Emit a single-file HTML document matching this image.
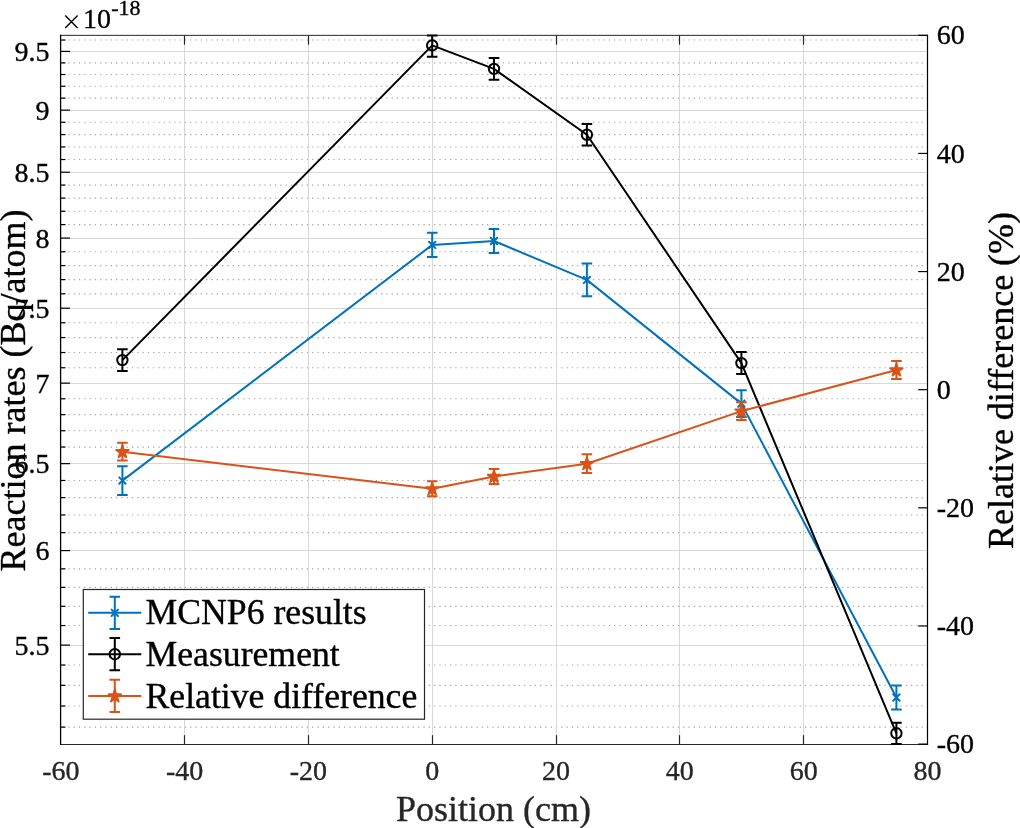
<!DOCTYPE html><html><head><meta charset="utf-8"><style>html,body{margin:0;padding:0;background:#fff;width:1020px;height:828px;overflow:hidden}</style></head><body><svg width="1020" height="828" viewBox="0 0 1020 828" style="position:absolute;left:0;top:0;will-change:transform">
<rect x="0" y="0" width="1020" height="828" fill="#fff"/>
<g stroke="#a6a6a6" stroke-width="1.15" stroke-dasharray="1.3 4.0" fill="none"><line x1="63.00" y1="727.13" x2="927.5" y2="727.13"/><line x1="63.00" y1="706.04" x2="927.5" y2="706.04"/><line x1="63.00" y1="685.35" x2="927.5" y2="685.35"/><line x1="63.00" y1="665.04" x2="927.5" y2="665.04"/><line x1="63.00" y1="625.54" x2="927.5" y2="625.54"/><line x1="63.00" y1="606.31" x2="927.5" y2="606.31"/><line x1="63.00" y1="587.42" x2="927.5" y2="587.42"/><line x1="63.00" y1="568.85" x2="927.5" y2="568.85"/><line x1="63.00" y1="532.63" x2="927.5" y2="532.63"/><line x1="63.00" y1="514.97" x2="927.5" y2="514.97"/><line x1="63.00" y1="497.59" x2="927.5" y2="497.59"/><line x1="63.00" y1="480.48" x2="927.5" y2="480.48"/><line x1="63.00" y1="447.05" x2="927.5" y2="447.05"/><line x1="63.00" y1="430.72" x2="927.5" y2="430.72"/><line x1="63.00" y1="414.63" x2="927.5" y2="414.63"/><line x1="63.00" y1="398.77" x2="927.5" y2="398.77"/><line x1="63.00" y1="367.73" x2="927.5" y2="367.73"/><line x1="63.00" y1="352.53" x2="927.5" y2="352.53"/><line x1="63.00" y1="337.55" x2="927.5" y2="337.55"/><line x1="63.00" y1="322.77" x2="927.5" y2="322.77"/><line x1="63.00" y1="293.80" x2="927.5" y2="293.80"/><line x1="63.00" y1="279.60" x2="927.5" y2="279.60"/><line x1="63.00" y1="265.58" x2="927.5" y2="265.58"/><line x1="63.00" y1="251.75" x2="927.5" y2="251.75"/><line x1="63.00" y1="224.59" x2="927.5" y2="224.59"/><line x1="63.00" y1="211.26" x2="927.5" y2="211.26"/><line x1="63.00" y1="198.09" x2="927.5" y2="198.09"/><line x1="63.00" y1="185.08" x2="927.5" y2="185.08"/><line x1="63.00" y1="159.52" x2="927.5" y2="159.52"/><line x1="63.00" y1="146.96" x2="927.5" y2="146.96"/><line x1="63.00" y1="134.55" x2="927.5" y2="134.55"/><line x1="63.00" y1="122.27" x2="927.5" y2="122.27"/><line x1="63.00" y1="98.13" x2="927.5" y2="98.13"/><line x1="63.00" y1="86.26" x2="927.5" y2="86.26"/><line x1="63.00" y1="74.51" x2="927.5" y2="74.51"/><line x1="63.00" y1="62.90" x2="927.5" y2="62.90"/><line x1="63.00" y1="40.03" x2="927.5" y2="40.03"/></g>
<g stroke="#d7d7d7" stroke-width="1" fill="none"><line x1="60.8" y1="645.50" x2="927.5" y2="645.50"/><line x1="60.8" y1="550.50" x2="927.5" y2="550.50"/><line x1="60.8" y1="463.50" x2="927.5" y2="463.50"/><line x1="60.8" y1="383.50" x2="927.5" y2="383.50"/><line x1="60.8" y1="308.50" x2="927.5" y2="308.50"/><line x1="60.8" y1="238.50" x2="927.5" y2="238.50"/><line x1="60.8" y1="172.50" x2="927.5" y2="172.50"/><line x1="60.8" y1="110.50" x2="927.5" y2="110.50"/><line x1="60.8" y1="51.50" x2="927.5" y2="51.50"/><line x1="184.50" y1="35.3" x2="184.50" y2="744.1"/><line x1="308.50" y1="35.3" x2="308.50" y2="744.1"/><line x1="432.50" y1="35.3" x2="432.50" y2="744.1"/><line x1="556.50" y1="35.3" x2="556.50" y2="744.1"/><line x1="679.50" y1="35.3" x2="679.50" y2="744.1"/><line x1="803.50" y1="35.3" x2="803.50" y2="744.1"/></g>
<g fill="none" stroke-linecap="butt"><line x1="60.0" y1="35.35" x2="928.1" y2="35.35" stroke="#262626" stroke-width="1"/><line x1="60.0" y1="744.45" x2="928.1" y2="744.45" stroke="#262626" stroke-width="1.1"/><line x1="184.50" y1="744.45" x2="184.50" y2="735.1500000000001" stroke="#262626" stroke-width="1.2"/><line x1="184.50" y1="35.35" x2="184.50" y2="44.650000000000006" stroke="#262626" stroke-width="1.2"/><line x1="308.50" y1="744.45" x2="308.50" y2="735.1500000000001" stroke="#262626" stroke-width="1.2"/><line x1="308.50" y1="35.35" x2="308.50" y2="44.650000000000006" stroke="#262626" stroke-width="1.2"/><line x1="432.50" y1="744.45" x2="432.50" y2="735.1500000000001" stroke="#262626" stroke-width="1.2"/><line x1="432.50" y1="35.35" x2="432.50" y2="44.650000000000006" stroke="#262626" stroke-width="1.2"/><line x1="556.50" y1="744.45" x2="556.50" y2="735.1500000000001" stroke="#262626" stroke-width="1.2"/><line x1="556.50" y1="35.35" x2="556.50" y2="44.650000000000006" stroke="#262626" stroke-width="1.2"/><line x1="679.50" y1="744.45" x2="679.50" y2="735.1500000000001" stroke="#262626" stroke-width="1.2"/><line x1="679.50" y1="35.35" x2="679.50" y2="44.650000000000006" stroke="#262626" stroke-width="1.2"/><line x1="803.50" y1="744.45" x2="803.50" y2="735.1500000000001" stroke="#262626" stroke-width="1.2"/><line x1="803.50" y1="35.35" x2="803.50" y2="44.650000000000006" stroke="#262626" stroke-width="1.2"/><line x1="60.6" y1="34.85" x2="60.6" y2="745.0" stroke="#000" stroke-width="1.3"/><line x1="60.6" y1="727.13" x2="65.5" y2="727.13" stroke="#000" stroke-width="1.2"/><line x1="60.6" y1="706.04" x2="65.5" y2="706.04" stroke="#000" stroke-width="1.2"/><line x1="60.6" y1="685.35" x2="65.5" y2="685.35" stroke="#000" stroke-width="1.2"/><line x1="60.6" y1="665.04" x2="65.5" y2="665.04" stroke="#000" stroke-width="1.2"/><line x1="60.6" y1="645.11" x2="70.0" y2="645.11" stroke="#000" stroke-width="1.2"/><line x1="60.6" y1="625.54" x2="65.5" y2="625.54" stroke="#000" stroke-width="1.2"/><line x1="60.6" y1="606.31" x2="65.5" y2="606.31" stroke="#000" stroke-width="1.2"/><line x1="60.6" y1="587.42" x2="65.5" y2="587.42" stroke="#000" stroke-width="1.2"/><line x1="60.6" y1="568.85" x2="65.5" y2="568.85" stroke="#000" stroke-width="1.2"/><line x1="60.6" y1="550.59" x2="70.0" y2="550.59" stroke="#000" stroke-width="1.2"/><line x1="60.6" y1="532.63" x2="65.5" y2="532.63" stroke="#000" stroke-width="1.2"/><line x1="60.6" y1="514.97" x2="65.5" y2="514.97" stroke="#000" stroke-width="1.2"/><line x1="60.6" y1="497.59" x2="65.5" y2="497.59" stroke="#000" stroke-width="1.2"/><line x1="60.6" y1="480.48" x2="65.5" y2="480.48" stroke="#000" stroke-width="1.2"/><line x1="60.6" y1="463.64" x2="70.0" y2="463.64" stroke="#000" stroke-width="1.2"/><line x1="60.6" y1="447.05" x2="65.5" y2="447.05" stroke="#000" stroke-width="1.2"/><line x1="60.6" y1="430.72" x2="65.5" y2="430.72" stroke="#000" stroke-width="1.2"/><line x1="60.6" y1="414.63" x2="65.5" y2="414.63" stroke="#000" stroke-width="1.2"/><line x1="60.6" y1="398.77" x2="65.5" y2="398.77" stroke="#000" stroke-width="1.2"/><line x1="60.6" y1="383.14" x2="70.0" y2="383.14" stroke="#000" stroke-width="1.2"/><line x1="60.6" y1="367.73" x2="65.5" y2="367.73" stroke="#000" stroke-width="1.2"/><line x1="60.6" y1="352.53" x2="65.5" y2="352.53" stroke="#000" stroke-width="1.2"/><line x1="60.6" y1="337.55" x2="65.5" y2="337.55" stroke="#000" stroke-width="1.2"/><line x1="60.6" y1="322.77" x2="65.5" y2="322.77" stroke="#000" stroke-width="1.2"/><line x1="60.6" y1="308.19" x2="70.0" y2="308.19" stroke="#000" stroke-width="1.2"/><line x1="60.6" y1="293.80" x2="65.5" y2="293.80" stroke="#000" stroke-width="1.2"/><line x1="60.6" y1="279.60" x2="65.5" y2="279.60" stroke="#000" stroke-width="1.2"/><line x1="60.6" y1="265.58" x2="65.5" y2="265.58" stroke="#000" stroke-width="1.2"/><line x1="60.6" y1="251.75" x2="65.5" y2="251.75" stroke="#000" stroke-width="1.2"/><line x1="60.6" y1="238.08" x2="70.0" y2="238.08" stroke="#000" stroke-width="1.2"/><line x1="60.6" y1="224.59" x2="65.5" y2="224.59" stroke="#000" stroke-width="1.2"/><line x1="60.6" y1="211.26" x2="65.5" y2="211.26" stroke="#000" stroke-width="1.2"/><line x1="60.6" y1="198.09" x2="65.5" y2="198.09" stroke="#000" stroke-width="1.2"/><line x1="60.6" y1="185.08" x2="65.5" y2="185.08" stroke="#000" stroke-width="1.2"/><line x1="60.6" y1="172.22" x2="70.0" y2="172.22" stroke="#000" stroke-width="1.2"/><line x1="60.6" y1="159.52" x2="65.5" y2="159.52" stroke="#000" stroke-width="1.2"/><line x1="60.6" y1="146.96" x2="65.5" y2="146.96" stroke="#000" stroke-width="1.2"/><line x1="60.6" y1="134.55" x2="65.5" y2="134.55" stroke="#000" stroke-width="1.2"/><line x1="60.6" y1="122.27" x2="65.5" y2="122.27" stroke="#000" stroke-width="1.2"/><line x1="60.6" y1="110.13" x2="70.0" y2="110.13" stroke="#000" stroke-width="1.2"/><line x1="60.6" y1="98.13" x2="65.5" y2="98.13" stroke="#000" stroke-width="1.2"/><line x1="60.6" y1="86.26" x2="65.5" y2="86.26" stroke="#000" stroke-width="1.2"/><line x1="60.6" y1="74.51" x2="65.5" y2="74.51" stroke="#000" stroke-width="1.2"/><line x1="60.6" y1="62.90" x2="65.5" y2="62.90" stroke="#000" stroke-width="1.2"/><line x1="60.6" y1="51.40" x2="70.0" y2="51.40" stroke="#000" stroke-width="1.2"/><line x1="60.6" y1="40.03" x2="65.5" y2="40.03" stroke="#000" stroke-width="1.2"/><line x1="927.5" y1="34.85" x2="927.5" y2="745.0" stroke="#000" stroke-width="1.2"/><line x1="927.5" y1="744.10" x2="918.2" y2="744.10" stroke="#000" stroke-width="1.2"/><line x1="927.5" y1="625.97" x2="918.2" y2="625.97" stroke="#000" stroke-width="1.2"/><line x1="927.5" y1="507.83" x2="918.2" y2="507.83" stroke="#000" stroke-width="1.2"/><line x1="927.5" y1="389.70" x2="918.2" y2="389.70" stroke="#000" stroke-width="1.2"/><line x1="927.5" y1="271.57" x2="918.2" y2="271.57" stroke="#000" stroke-width="1.2"/><line x1="927.5" y1="153.43" x2="918.2" y2="153.43" stroke="#000" stroke-width="1.2"/><line x1="927.5" y1="35.30" x2="918.2" y2="35.30" stroke="#000" stroke-width="1.2"/></g>
<polyline points="122.40,480.60 432.20,244.90 494.00,241.00 586.90,279.90 741.40,403.60 896.40,697.50" fill="none" stroke="#0072BD" stroke-width="2" stroke-linejoin="round"/><path d="M122.40 466.20V495.00M117.10 466.20H127.70M117.10 495.00H127.70M432.20 232.70V257.10M426.90 232.70H437.50M426.90 257.10H437.50M494.00 229.00V252.90M488.70 229.00H499.30M488.70 252.90H499.30M586.90 263.60V296.20M581.60 263.60H592.20M581.60 296.20H592.20M741.40 390.30V416.90M736.10 390.30H746.70M736.10 416.90H746.70M896.40 685.50V709.60M891.10 685.50H901.70M891.10 709.60H901.70" fill="none" stroke="#0072BD" stroke-width="2"/><path d="M119.20 477.40L125.60 483.80M119.20 483.80L125.60 477.40" stroke="#0072BD" stroke-width="2" stroke-linecap="round" fill="none"/><path d="M429.00 241.70L435.40 248.10M429.00 248.10L435.40 241.70" stroke="#0072BD" stroke-width="2" stroke-linecap="round" fill="none"/><path d="M490.80 237.80L497.20 244.20M490.80 244.20L497.20 237.80" stroke="#0072BD" stroke-width="2" stroke-linecap="round" fill="none"/><path d="M583.70 276.70L590.10 283.10M583.70 283.10L590.10 276.70" stroke="#0072BD" stroke-width="2" stroke-linecap="round" fill="none"/><path d="M738.20 400.40L744.60 406.80M738.20 406.80L744.60 400.40" stroke="#0072BD" stroke-width="2" stroke-linecap="round" fill="none"/><path d="M893.20 694.30L899.60 700.70M893.20 700.70L899.60 694.30" stroke="#0072BD" stroke-width="2" stroke-linecap="round" fill="none"/>
<polyline points="122.40,360.10 432.20,45.40 494.00,68.85 586.90,134.75 741.40,363.10 896.40,733.30" fill="none" stroke="#000" stroke-width="2" stroke-linejoin="round"/><path d="M122.40 349.30V371.00M117.10 349.30H127.70M117.10 371.00H127.70M432.20 35.50V56.80M426.90 35.50H437.50M426.90 56.80H437.50M494.00 57.90V79.80M488.70 57.90H499.30M488.70 79.80H499.30M586.90 123.90V145.60M581.60 123.90H592.20M581.60 145.60H592.20M741.40 352.10V374.10M736.10 352.10H746.70M736.10 374.10H746.70M896.40 722.70V743.90M891.10 722.70H901.70M891.10 743.90H901.70" fill="none" stroke="#000" stroke-width="2"/><circle cx="122.40" cy="360.10" r="5.2" stroke="#000" stroke-width="2" fill="none"/><circle cx="432.20" cy="45.40" r="5.2" stroke="#000" stroke-width="2" fill="none"/><circle cx="494.00" cy="68.85" r="5.2" stroke="#000" stroke-width="2" fill="none"/><circle cx="586.90" cy="134.75" r="5.2" stroke="#000" stroke-width="2" fill="none"/><circle cx="741.40" cy="363.10" r="5.2" stroke="#000" stroke-width="2" fill="none"/><circle cx="896.40" cy="733.30" r="5.2" stroke="#000" stroke-width="2" fill="none"/>
<polyline points="122.40,451.65 432.20,488.80 494.00,476.40 586.90,463.70 741.40,411.10 896.40,370.00" fill="none" stroke="#D95319" stroke-width="2" stroke-linejoin="round"/><path d="M122.40 442.80V460.50M117.10 442.80H127.70M117.10 460.50H127.70M432.20 481.30V496.20M426.90 481.30H437.50M426.90 496.20H437.50M494.00 469.00V483.90M488.70 469.00H499.30M488.70 483.90H499.30M586.90 454.30V473.00M581.60 454.30H592.20M581.60 473.00H592.20M741.40 402.20V420.10M736.10 402.20H746.70M736.10 420.10H746.70M896.40 360.90V379.10M891.10 360.90H901.70M891.10 379.10H901.70" fill="none" stroke="#D95319" stroke-width="2"/><polygon points="122.40,445.35 123.88,449.91 128.68,449.91 124.80,452.73 126.28,457.29 122.40,454.47 118.52,457.29 120.00,452.73 116.12,449.91 120.92,449.91" stroke="#D95319" stroke-width="1.8" stroke-linejoin="round" fill="#D95319"/><polygon points="432.20,482.50 433.68,487.06 438.48,487.06 434.60,489.88 436.08,494.44 432.20,491.62 428.32,494.44 429.80,489.88 425.92,487.06 430.72,487.06" stroke="#D95319" stroke-width="1.8" stroke-linejoin="round" fill="#D95319"/><polygon points="494.00,470.10 495.48,474.66 500.28,474.66 496.40,477.48 497.88,482.04 494.00,479.22 490.12,482.04 491.60,477.48 487.72,474.66 492.52,474.66" stroke="#D95319" stroke-width="1.8" stroke-linejoin="round" fill="#D95319"/><polygon points="586.90,457.40 588.38,461.96 593.18,461.96 589.30,464.78 590.78,469.34 586.90,466.52 583.02,469.34 584.50,464.78 580.62,461.96 585.42,461.96" stroke="#D95319" stroke-width="1.8" stroke-linejoin="round" fill="#D95319"/><polygon points="741.40,404.80 742.88,409.36 747.68,409.36 743.80,412.18 745.28,416.74 741.40,413.92 737.52,416.74 739.00,412.18 735.12,409.36 739.92,409.36" stroke="#D95319" stroke-width="1.8" stroke-linejoin="round" fill="#D95319"/><polygon points="896.40,363.70 897.88,368.26 902.68,368.26 898.80,371.08 900.28,375.64 896.40,372.82 892.52,375.64 894.00,371.08 890.12,368.26 894.92,368.26" stroke="#D95319" stroke-width="1.8" stroke-linejoin="round" fill="#D95319"/>
<g font-family="'Liberation Serif', serif" font-size="28" fill="#000" stroke="#000" stroke-width="0.35"><text x="49.6" y="654.71" text-anchor="end">5.5</text><text x="49.6" y="560.19" text-anchor="end">6</text><text x="49.6" y="473.24" text-anchor="end">6.5</text><text x="49.6" y="392.74" text-anchor="end">7</text><text x="49.6" y="317.79" text-anchor="end">7.5</text><text x="49.6" y="247.68" text-anchor="end">8</text><text x="49.6" y="181.82" text-anchor="end">8.5</text><text x="49.6" y="119.73" text-anchor="end">9</text><text x="49.6" y="61.00" text-anchor="end">9.5</text><text x="936.8" y="753.25">-60</text><text x="936.8" y="635.12">-40</text><text x="936.8" y="516.98">-20</text><text x="936.8" y="398.85">0</text><text x="936.8" y="280.72">20</text><text x="936.8" y="162.58">40</text><text x="936.8" y="44.45">60</text><text x="60.80" y="779.6" text-anchor="middle" fill="#262626" stroke="#262626">-60</text><text x="184.61" y="779.6" text-anchor="middle" fill="#262626" stroke="#262626">-40</text><text x="308.43" y="779.6" text-anchor="middle" fill="#262626" stroke="#262626">-20</text><text x="432.24" y="779.6" text-anchor="middle" fill="#262626" stroke="#262626">0</text><text x="556.06" y="779.6" text-anchor="middle" fill="#262626" stroke="#262626">20</text><text x="679.87" y="779.6" text-anchor="middle" fill="#262626" stroke="#262626">40</text><text x="803.69" y="779.6" text-anchor="middle" fill="#262626" stroke="#262626">60</text><text x="927.50" y="779.6" text-anchor="middle" fill="#262626" stroke="#262626">80</text></g>
<path d="M65.2 15.6L77.6 28M65.2 28L77.6 15.6" stroke="#000" stroke-width="1.4" fill="none"/>
<g font-family="'Liberation Serif', serif" fill="#000" stroke="#000" stroke-width="0.35"><text x="82.9" y="27.9" font-size="28">10</text><text x="111.2" y="15" font-size="22">-18</text></g>
<text x="493.5" y="821.3" text-anchor="middle" font-family="'Liberation Serif', serif" font-size="36" fill="#262626" stroke="#262626" stroke-width="0.35">Position (cm)</text>
<text transform="translate(24.7 390.5) rotate(-90)" text-anchor="middle" font-family="'Liberation Serif', serif" font-size="36" fill="#000" stroke="#000" stroke-width="0.35">Reaction rates (Bq/atom)</text>
<text transform="translate(1012.9 380.5) rotate(-90)" text-anchor="middle" font-family="'Liberation Serif', serif" font-size="36" fill="#000" stroke="#000" stroke-width="0.35">Relative difference (%)</text>
<rect x="83.3" y="589.5" width="341.2" height="129.7" fill="#fff" stroke="#262626" stroke-width="1.2"/>
<path d="M88.2 612.8H141.3M114.8 596.6999999999999V628.9M109.5 596.6999999999999H120.1M109.5 628.9H120.1" stroke="#0072BD" stroke-width="2" fill="none"/>
<path d="M111.60 609.60L118.00 616.00M111.60 616.00L118.00 609.60" stroke="#0072BD" stroke-width="2" stroke-linecap="round" fill="none"/>
<text x="145.5" y="624.4" font-family="'Liberation Serif', serif" font-size="35.7" fill="#000" stroke="#000" stroke-width="0.35">MCNP6 results</text>
<path d="M88.2 654.2H141.3M114.8 638.1V670.3000000000001M109.5 638.1H120.1M109.5 670.3000000000001H120.1" stroke="#000" stroke-width="2" fill="none"/>
<circle cx="114.80" cy="654.20" r="5.2" stroke="#000" stroke-width="2" fill="none"/>
<text x="145.5" y="665.8" font-family="'Liberation Serif', serif" font-size="35.7" fill="#000" stroke="#000" stroke-width="0.35">Measurement</text>
<path d="M88.2 695.9H141.3M114.8 679.8V712.0M109.5 679.8H120.1M109.5 712.0H120.1" stroke="#D95319" stroke-width="2" fill="none"/>
<polygon points="114.80,689.60 116.28,694.16 121.08,694.16 117.20,696.98 118.68,701.54 114.80,698.72 110.92,701.54 112.40,696.98 108.52,694.16 113.32,694.16" stroke="#D95319" stroke-width="1.8" stroke-linejoin="round" fill="#D95319"/>
<text x="145.5" y="707.5" font-family="'Liberation Serif', serif" font-size="35.7" fill="#000" stroke="#000" stroke-width="0.35">Relative difference</text>
</svg></body></html>
